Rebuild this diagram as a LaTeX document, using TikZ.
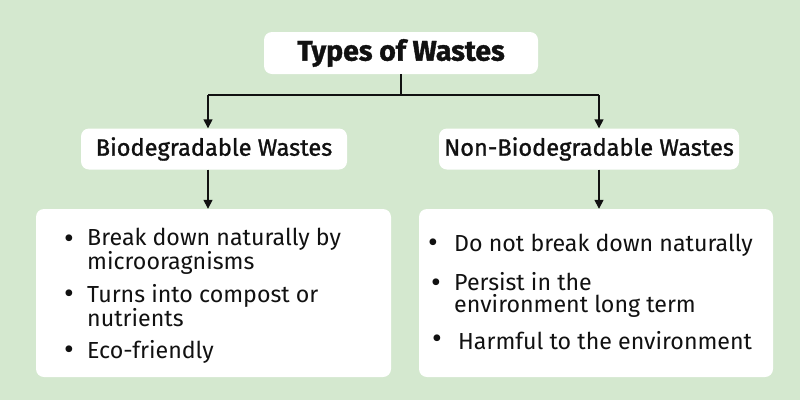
\documentclass[tikz,border=0pt]{standalone}
\usepackage{fontspec}
\setmainfont{Fira Sans}
\newfontfamily\headfont{Fira Sans}[FakeBold=1.2]
\newfontfamily\titlefont{Fira Sans}[BoldFeatures={FakeBold=1.3}]
\usetikzlibrary{arrows.meta}
\definecolor{bg}{HTML}{D4E8CF}
\definecolor{ink}{HTML}{111111}
\begin{document}
\begin{tikzpicture}[x=1pt,y=-1pt,
  box/.style={fill=white, rounded corners=8pt, draw=none, inner sep=0pt},
  headbox/.style={box, font=\fontsize{23.6}{26}\selectfont\headfont, text=ink},
  item/.style={font=\fontsize{23.2}{22.6}\selectfont, anchor=west, inner sep=0pt, align=left, text=ink},
  bul/.style={font=\fontsize{30}{30}\selectfont, inner sep=0pt, text=ink},
  conn/.style={line width=1.5pt, draw=ink, -{Triangle[width=9pt,length=9pt]}},
  plain/.style={line width=1.5pt, draw=ink}]
\path[fill=bg] (0,0) rectangle (800,400);
\useasboundingbox (0,0) rectangle (800,400);
% boxes
\node[box, minimum width=274pt, minimum height=42pt, font=\fontsize{28.4}{30}\selectfont\titlefont\bfseries, text=ink] (title) at (401,53) {Types of Wastes};
\node[headbox, minimum width=266pt, minimum height=41pt] (bio) at (214,149) {Biodegradable Wastes};
\node[headbox, minimum width=300pt, minimum height=41pt] (non) at (589,149) {Non-Biodegradable Wastes};
\node[box, minimum width=355pt, minimum height=168pt] (bioc) at (213.5,293) {};
\node[box, minimum width=354pt, minimum height=168pt] (nonc) at (596,293) {};
% connectors
\coordinate (jl) at (208,95);
\coordinate (jr) at (599,95);
\draw[plain] (title.south) -- (title.south |- jl);
\draw[plain] (jl) -- (jr);
\draw[conn] (jl) -- (jl |- bio.north);
\draw[conn] (jr) -- (jr |- non.north);
\draw[conn] (bio.south -| jl) -- (jl |- bioc.north);
\draw[conn] (non.south -| jr) -- (jr |- nonc.north);
% left items
\node[bul] (b1) at (69,242) {•};
\node[item] (t1) at (87,251) {Break down naturally by\\microoragnisms};
\node[bul] (b2) at (69,297) {•};
\node[item] (t2) at (87,306) {Turns into compost or\\nutrients};
\node[bul] (b3) at (69,353) {•};
\node[item] (t3) at (87,352) {Eco-friendly};
% right items
\node[bul] (r1) at (433,246) {•};
\node[item] (u1) at (454,245) {Do not break down naturally};
\node[bul] (r2) at (436,286) {•};
\node[item] (u2) at (454,295) {Persist in the\\environment long term};
\node[bul] (r3) at (437,342) {•};
\node[item] (u3) at (458,341) {Harmful to the environment};
\end{tikzpicture}
\end{document}
